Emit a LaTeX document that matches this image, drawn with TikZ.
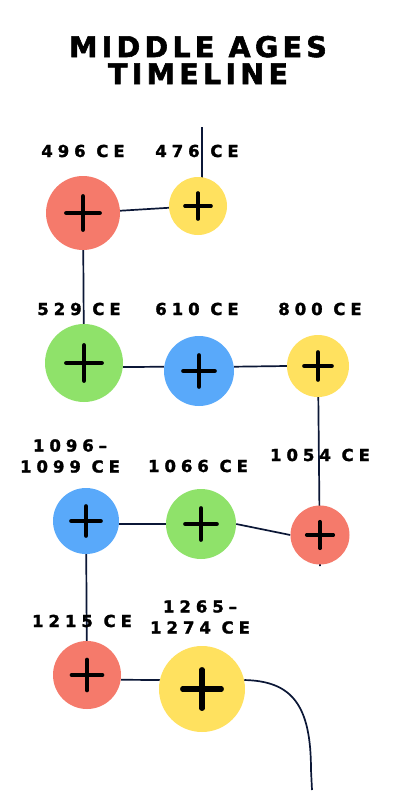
\documentclass[tikz,border=0pt]{standalone}
\usepackage{fontspec}
\setmainfont{DejaVu Sans}
\newfontfamily\titlefont[LetterSpace=15, BoldFeatures={FakeBold=2}]{DejaVu Sans}
\newfontfamily\lblfont[LetterSpace=30, BoldFeatures={FakeBold=1.6}]{DejaVu Sans}
\usetikzlibrary{backgrounds}
\definecolor{ered}{HTML}{F57A6B}
\definecolor{egreen}{HTML}{8FE26A}
\definecolor{eblue}{HTML}{59A9FA}
\definecolor{eyellow}{HTML}{FFE15F}
\definecolor{navy}{HTML}{0B1736}
\tikzset{
  event/.style={circle, inner sep=0pt, draw=none},
  lbl/.style={font=\lblfont\bfseries\fontsize{16.5}{21}\selectfont, align=center, inner sep=0pt},
  titletext/.style={font=\titlefont\bfseries\fontsize{28.5}{27}\selectfont, align=center, inner sep=0pt},
  conn/.style={draw=navy, line width=1.7pt},
  plusline/.style={draw=black, line cap=round},
}
\newcommand\evt[5]{%
  \node[event, fill=#5, minimum size={2*#4}] (#1) at (#2,#3) {};
  \draw[plusline, line width={0.12*#4}] (#1.center) ++({-0.45*#4},0) -- ++({0.9*#4},0);
  \draw[plusline, line width={0.12*#4}] (#1.center) ++(0,{-0.45*#4}) -- ++(0,{0.9*#4});
}
\begin{document}
\begin{tikzpicture}[x=1pt,y=-1pt]
\useasboundingbox (0,0) rectangle (400,800);
\node[titletext] (title) at (198,60) {MIDDLE AGES\\TIMELINE};

\evt{r496}{83}{213}{37}{ered}
\evt{y476}{198}{206}{29}{eyellow}
\evt{g529}{84}{363}{39}{egreen}
\evt{b610}{199}{371}{35}{eblue}
\evt{y800}{318}{366}{31}{eyellow}
\evt{r1054}{320}{535}{29.5}{ered}
\evt{g1066}{201}{524}{35}{egreen}
\evt{b1096}{86}{521}{33}{eblue}
\evt{r1215}{87}{675}{34}{ered}
\evt{y1265}{202}{689}{43}{eyellow}

\node[lbl, anchor=base] (l496) at (83,157) {496 CE};
\node[lbl, anchor=base] (l476) at (197,157) {476 CE};
\node[lbl, anchor=base] (l529) at (79,315) {529 CE};
\node[lbl, anchor=base] (l610) at (197,315) {610 CE};
\node[lbl, anchor=base] (l800) at (320,315) {800 CE};
\node[lbl] (l1096) at (70,456) {1096–\\1099 CE};
\node[lbl, anchor=base] (l1066) at (198,472) {1066 CE};
\node[lbl, anchor=base] (l1054) at (320,461) {1054 CE};
\node[lbl, anchor=base] (l1215) at (82,627) {1215 CE};
\node[lbl] (l1265) at (200,617) {1265–\\1274 CE};

\coordinate (top) at (202,127);
\coordinate (below1054) at (320,566);
\coordinate (end) at (312,790);

\begin{scope}[on background layer]
\fill[white] (0,0) rectangle (400,800);
\draw[conn] (top) -- (202,190);
\draw[conn] (r496) -- (y476);
\draw[conn] (r496) -- (g529);
\draw[conn] (g529.-6) -- (b610.173);
\draw[conn] (b610.7) -- (y800.west);
\draw[conn] (y800) -- (below1054);
\draw[conn] (b1096.-5) -- (g1066.west);
\draw[conn] (g1066.east) -- (r1054.west);
\draw[conn] (b1096) -- (r1215);
\draw[conn] (r1215.-8) -- (y1265.168);
\draw[conn] (y1265.12) .. controls (292,681) and (311,705) .. (311,770) -- (end);
\end{scope}
\end{tikzpicture}
\end{document}
